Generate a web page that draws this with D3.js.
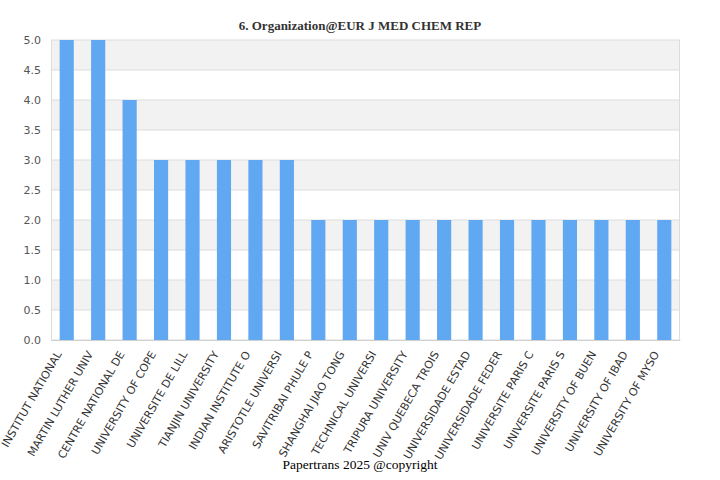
<!DOCTYPE html>
<html>
<head>
<meta charset="utf-8">
<script src="https://cdn.jsdelivr.net/npm/d3@7"></script>
<style>
  body { margin: 0; background: #fff; }
</style>
</head>
<body>
<div id="chart"></div>
<script>
const width = 720
const height = 480
const margin = { top: 40, bottom: 140, left: 51, right: 40 }

const organizations = [
    "INSTITUT NATIONAL ", "MARTIN LUTHER UNIV", "CENTRE NATIONAL DE", "UNIVERSITY OF COPE",
    "UNIVERSITE DE LILL", "TIANJIN UNIVERSITY", "INDIAN INSTITUTE O", "ARISTOTLE UNIVERSI",
    "SAVITRIBAI PHULE P", "SHANGHAI JIAO TONG", "TECHNICAL UNIVERSI", "TRIPURA UNIVERSITY",
    "UNIV QUEBECA TROIS", "UNIVERSIDADE ESTAD", "UNIVERSIDADE FEDER", "UNIVERSITE PARIS C",
    "UNIVERSITE PARIS S", "UNIVERSITY OF BUEN", "UNIVERSITY OF IBAD", "UNIVERSITY OF MYSO"
]
const counts = [5, 5, 4, 3, 3, 3, 3, 3, 2, 2, 2, 2, 2, 2, 2, 2, 2, 2, 2, 2]
const yTicks = [0, 0.5, 1, 1.5, 2, 2.5, 3, 3.5, 4, 4.5, 5]

const innerW = width - margin.left - margin.right
const innerH = height - margin.top - margin.bottom
const sansFont = "'DejaVu Sans', Verdana, sans-serif"

const svg = d3.select("div#chart").append("svg").attr("width", width).attr("height", height)
const g = svg.append("g").attr("transform", `translate(${margin.left}, ${margin.top})`)

const x = d3.scaleBand().domain(organizations).range([0, innerW]).paddingInner(0.55).paddingOuter(0.275)
const y = d3.scaleLinear().domain([0, 5]).range([innerH, 0])

// alternating bands
const bands = d3.pairs(yTicks).filter((p, i) => i % 2 === 1)
g.selectAll("rect.band").data(bands).enter().append("rect")
    .attr("class", "band")
    .attr("x", 0).attr("width", innerW)
    .attr("y", d => y(d[1])).attr("height", d => y(d[0]) - y(d[1]))
    .attr("fill", "#f2f2f2")

// grid lines
g.selectAll("line.grid").data(yTicks).enter().append("line")
    .attr("class", "grid")
    .attr("x1", 0).attr("x2", innerW)
    .attr("y1", d => y(d)).attr("y2", d => y(d))
    .attr("stroke", "#dcdcdc").attr("stroke-width", 1)

g.append("line").attr("x1", 0.5).attr("x2", 0.5).attr("y1", 0).attr("y2", innerH)
    .attr("stroke", "#dcdcdc")
g.append("line").attr("x1", innerW - 0.5).attr("x2", innerW - 0.5).attr("y1", 0).attr("y2", innerH)
    .attr("stroke", "#dcdcdc")

// bars
g.selectAll("rect.bar").data(counts).enter().append("rect")
    .attr("class", "bar")
    .attr("x", (d, i) => x(organizations[i]))
    .attr("width", x.bandwidth())
    .attr("y", d => y(d))
    .attr("height", d => innerH - y(d))
    .attr("fill", "#61a8f3")

// y axis
const yAxis = d3.axisLeft(y).tickValues(yTicks).tickFormat(d3.format(".1f")).tickSize(0).tickPadding(10)
const yG = g.append("g").call(yAxis)
yG.select(".domain").remove()
yG.selectAll("text").attr("fill", "#555").style("font-family", sansFont).style("font-size", "11px")

// x axis
const xAxis = d3.axisBottom(x).tickSize(0).tickPadding(0)
const xG = g.append("g").attr("transform", `translate(0, ${innerH})`).call(xAxis)
xG.select(".domain").attr("stroke", "#d0d0d0")
xG.selectAll("text")
    .style("font-family", sansFont).style("font-size", "11px").attr("fill", "#333")
    .attr("text-anchor", "end")
    .attr("dy", "0.35em").attr("y", 0)
    .attr("transform", "translate(-8, 12) rotate(-60)")

// title
svg.append("text").text("6. Organization@EUR J MED CHEM REP")
    .attr("x", 360).attr("y", 30).attr("text-anchor", "middle")
    .style("font-family", "'Liberation Serif', serif").style("font-size", "13px").style("font-weight", "bold")
    .attr("fill", "#333")

svg.append("text").text("Papertrans 2025 @copyright")
    .attr("x", 360).attr("y", 469).attr("text-anchor", "middle")
    .style("font-family", "'Liberation Serif', serif").style("font-size", "13.5px")
    .attr("fill", "#000")
</script>
</body>
</html>
